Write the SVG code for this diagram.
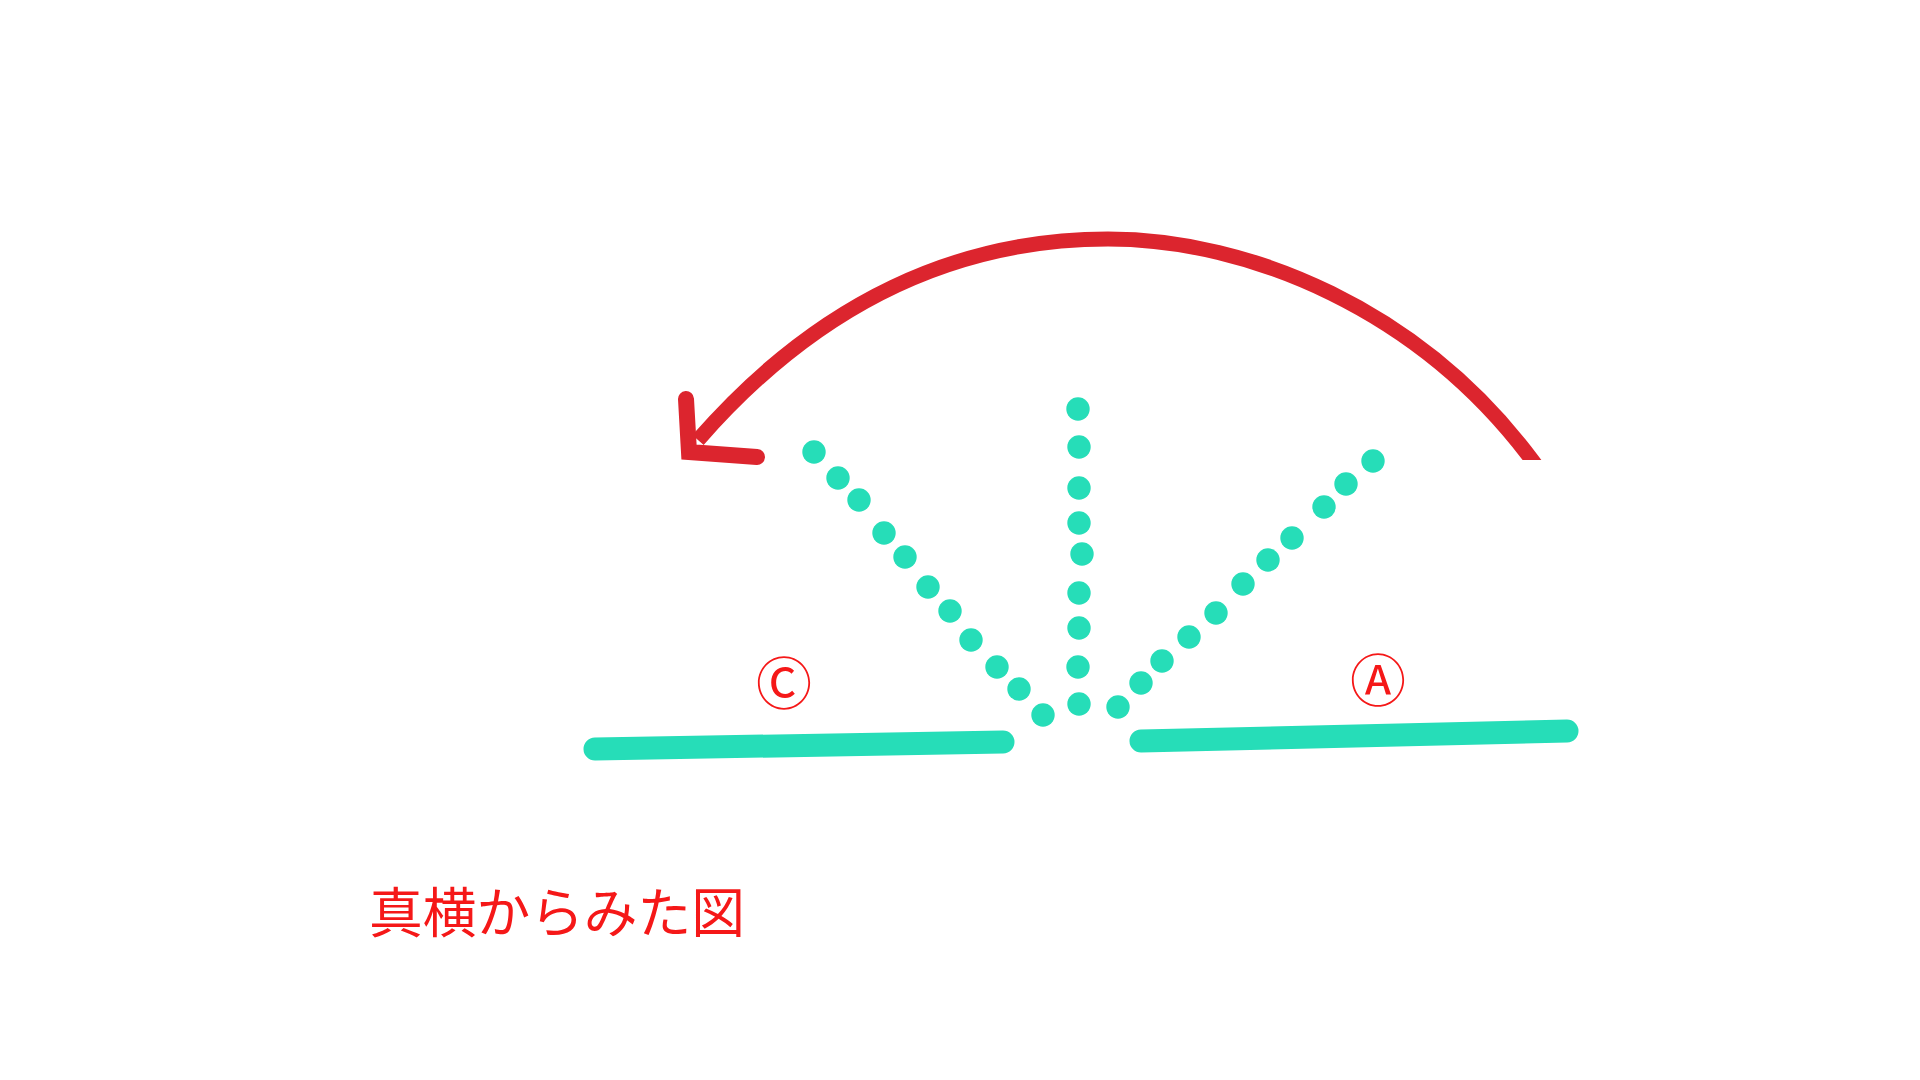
<svg xmlns="http://www.w3.org/2000/svg" width="1920" height="1080" viewBox="0 0 1920 1080">
<style>
.dot{fill:#26DDB8}
.bar{stroke:#26DDB8;stroke-width:23;stroke-linecap:round;fill:none}
.arc{stroke:#DC252E;stroke-width:15;fill:none}
.head{stroke:#DC252E;stroke-width:16;fill:none;stroke-linecap:round;stroke-linejoin:miter}
.lbl{fill:#F51818;font-family:"Liberation Serif","Noto Sans CJK JP",serif;text-anchor:middle}
.title{fill:#F51818;font-family:"Noto Sans CJK JP",serif;font-size:54px}
</style>
<defs>
<clipPath id="arcclip"><rect x="0" y="0" width="1920" height="460"/></clipPath>
</defs>
<rect width="1920" height="1080" fill="#FFFFFF"/>
<g id="connectors">
<path class="arc" clip-path="url(#arcclip)" d="M1544,476 L1532,460 C1420,310 1250,239 1108,239 C960,239 820,300 698,440"/>
<polyline class="head" points="686,399 689,452 757,457"/>
</g>
<g id="line-C">
<line class="bar" x1="595" y1="749" x2="1003" y2="742"/>
</g>
<g id="line-A">
<line class="bar" x1="1141" y1="741" x2="1567" y2="731"/>
</g>
<g id="dots-C">
<circle class="dot" cx="814" cy="452" r="11.7"/>
<circle class="dot" cx="838" cy="478" r="11.7"/>
<circle class="dot" cx="859" cy="500" r="11.7"/>
<circle class="dot" cx="884" cy="533" r="11.7"/>
<circle class="dot" cx="905" cy="557" r="11.7"/>
<circle class="dot" cx="928" cy="587" r="11.7"/>
<circle class="dot" cx="950" cy="611" r="11.7"/>
<circle class="dot" cx="971" cy="640" r="11.7"/>
<circle class="dot" cx="997" cy="667" r="11.7"/>
<circle class="dot" cx="1019" cy="689" r="11.7"/>
<circle class="dot" cx="1043" cy="715" r="11.7"/>
</g>
<g id="dots-B">
<circle class="dot" cx="1078" cy="409" r="11.7"/>
<circle class="dot" cx="1079" cy="447" r="11.7"/>
<circle class="dot" cx="1079" cy="488" r="11.7"/>
<circle class="dot" cx="1079" cy="523" r="11.7"/>
<circle class="dot" cx="1082" cy="554" r="11.7"/>
<circle class="dot" cx="1079" cy="593" r="11.7"/>
<circle class="dot" cx="1079" cy="628" r="11.7"/>
<circle class="dot" cx="1078" cy="667" r="11.7"/>
<circle class="dot" cx="1079" cy="704" r="11.7"/>
</g>
<g id="dots-A">
<circle class="dot" cx="1373" cy="461" r="11.7"/>
<circle class="dot" cx="1346" cy="484" r="11.7"/>
<circle class="dot" cx="1324" cy="507" r="11.7"/>
<circle class="dot" cx="1292" cy="538" r="11.7"/>
<circle class="dot" cx="1268" cy="560" r="11.7"/>
<circle class="dot" cx="1243" cy="584" r="11.7"/>
<circle class="dot" cx="1216" cy="613" r="11.7"/>
<circle class="dot" cx="1189" cy="637" r="11.7"/>
<circle class="dot" cx="1162" cy="661" r="11.7"/>
<circle class="dot" cx="1141" cy="683" r="11.7"/>
<circle class="dot" cx="1118" cy="707" r="11.7"/>
</g>
<g id="label-C">
<text class="lbl" x="784" y="704" font-size="56">Ⓒ</text>
</g>
<g id="label-A">
<text class="lbl" x="1378" y="701" font-size="56">Ⓐ</text>
</g>
<g id="title">
<text class="title" x="369" y="933" textLength="376" lengthAdjust="spacingAndGlyphs">真横からみた図</text>
</g>
</svg>
